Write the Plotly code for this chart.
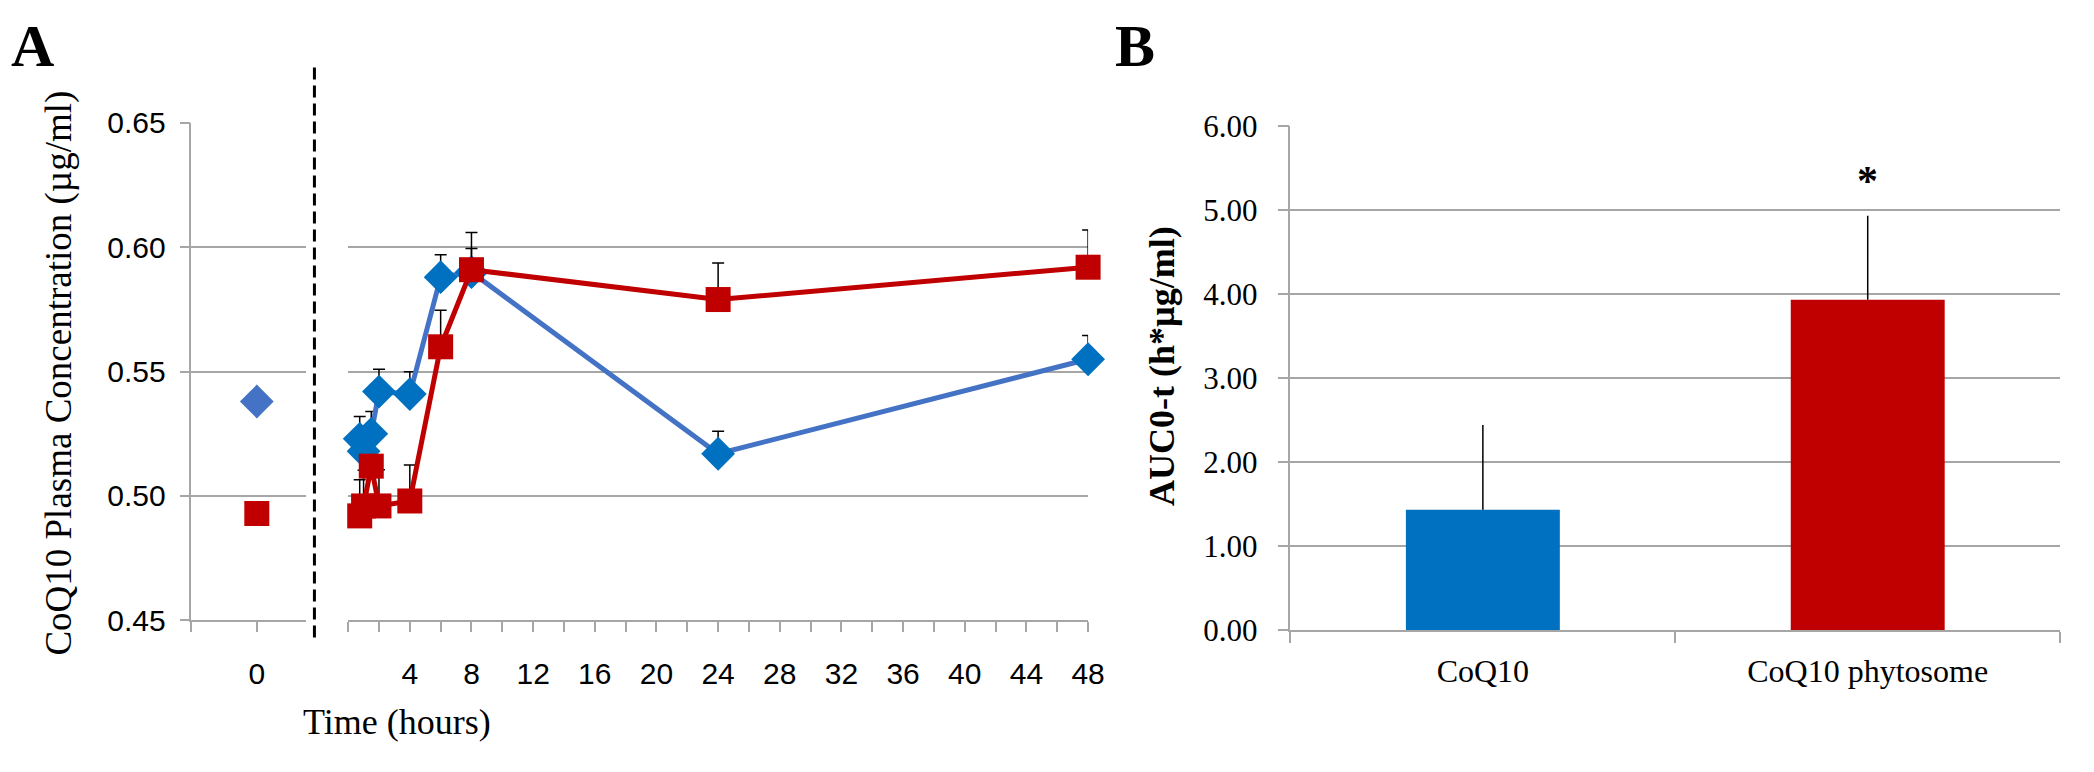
import plotly.graph_objects as go

# panel A: plasma concentration (ug/ml) over time (hours)
times = [0.75, 1, 1.5, 2, 4, 6, 8, 24, 48]
coq10 = [0.523, 0.518, 0.525, 0.542, 0.541, 0.588, 0.590, 0.517, 0.555]
coq10_err = [0.009, 0.010, 0.009, 0.009, 0.009, 0.009, 0.0095, 0.009, 0.0095]
phyto = [0.492, 0.496, 0.512, 0.496, 0.498, 0.560, 0.591, 0.579, 0.592]
phyto_err = [0.0145, 0.0144, 0.004, 0.0146, 0.0145, 0.0147, 0.015, 0.0147, 0.015]
coq10_t0 = [0.538]
phyto_t0 = [0.493]

# panel B: AUC0-t
groups = ["CoQ10", "CoQ10 phytosome"]
auc = [1.43, 3.93]
auc_err = [1.01, 1.00]

W, H = 2094, 772
BLUE_LINE = "#4472C4"
BLUE = "#0070C0"
RED = "#C00000"
GRID = "#A6A6A6"
SANS = "Liberation Sans"
SERIF = "Liberation Serif"


def px(x):
    return x / W


def py(y):
    return 1 - y / H


fig = go.Figure()

# time 0, left part of panel A
fig.add_trace(go.Scatter(x=[0], y=coq10_t0, mode="markers", xaxis="x", yaxis="y",
                         marker=dict(symbol="diamond", size=26, color=BLUE_LINE)))
fig.add_trace(go.Scatter(x=[0], y=phyto_t0, mode="markers", xaxis="x", yaxis="y",
                         marker=dict(symbol="square", size=25, color=RED)))

# time course
err_style = dict(type="data", symmetric=False, color="black", thickness=1.5, width=6)
fig.add_trace(go.Scatter(
    x=times, y=coq10, mode="lines+markers", xaxis="x2", yaxis="y2",
    line=dict(color=BLUE_LINE, width=5),
    marker=dict(symbol="diamond", size=26, color=BLUE),
    error_y=dict(array=coq10_err, arrayminus=[0] * len(times), **err_style),
    cliponaxis=False))
fig.add_trace(go.Scatter(
    x=times, y=phyto, mode="lines+markers", xaxis="x2", yaxis="y2",
    line=dict(color=RED, width=5),
    marker=dict(symbol="square", size=25, color=RED),
    error_y=dict(array=phyto_err, arrayminus=[0] * len(times), **err_style),
    cliponaxis=False))

# bars
fig.add_trace(go.Bar(
    x=groups, y=auc, xaxis="x3", yaxis="y3",
    marker=dict(color=[BLUE, RED], line=dict(width=0)),
    error_y=dict(type="data", symmetric=False, array=auc_err, arrayminus=[0, 0],
                 color="black", thickness=1.5, width=0)))

sans_tick = dict(family=SANS, size=30, color="black")
serif_tick = dict(family=SERIF, size=31, color="black")

fig.update_layout(
    width=W, height=H,
    margin=dict(l=0, r=0, t=0, b=0),
    paper_bgcolor="white", plot_bgcolor="white",
    showlegend=False,
    bargap=0.6,
    xaxis=dict(domain=[px(193), px(309)], range=[-0.5, 0.38],
               tickvals=[-0.5, 0], ticktext=["", "0"],
               showgrid=False, zeroline=False,
               showline=True, linecolor=GRID, linewidth=1.5,
               ticks="outside", ticklen=10, tickcolor=GRID, tickwidth=1.5,
               tickfont=sans_tick, ticklabelstandoff=16),
    yaxis=dict(domain=[py(632), py(111)], range=[0.45, 0.65], dtick=0.05,
               tickformat=".2f", anchor="x",
               showgrid=True, gridcolor=GRID, gridwidth=1.5, zeroline=False,
               showline=True, linecolor=GRID, linewidth=1.5,
               ticks="outside", ticklen=10, tickcolor=GRID, tickwidth=1.5,
               tickfont=sans_tick, ticklabelstandoff=8),
    xaxis2=dict(domain=[px(351), px(1097)], range=[0, 48],
                tickvals=list(range(4, 49, 4)),
                showgrid=False, zeroline=False,
                showline=True, linecolor=GRID, linewidth=1.5,
                ticks="outside", ticklen=10, tickcolor=GRID, tickwidth=1.5,
                minor=dict(dtick=2, tick0=0, ticks="outside", ticklen=10,
                           tickcolor=GRID, tickwidth=1.5, showgrid=False),
                tickfont=sans_tick, ticklabelstandoff=16, anchor="y2"),
    yaxis2=dict(domain=[py(632), py(111)], range=[0.45, 0.65], dtick=0.05,
                anchor="x2", showticklabels=False,
                showgrid=True, gridcolor=GRID, gridwidth=1.5, zeroline=False,
                showline=False, ticks=""),
    xaxis3=dict(domain=[px(1301), px(2077)], range=[-0.5, 1.5], type="category",
                anchor="y3", showgrid=False, zeroline=False,
                showline=True, linecolor=GRID, linewidth=1.5,
                ticks="outside", tickson="boundaries", ticklen=11,
                tickcolor=GRID, tickwidth=1.5,
                tickfont=dict(family=SERIF, size=32, color="black"),
                ticklabelstandoff=12),
    yaxis3=dict(domain=[py(642), py(114)], range=[0, 6], dtick=1,
                tickformat=".2f", anchor="x3",
                showgrid=True, gridcolor=GRID, gridwidth=1.5, zeroline=False,
                showline=True, linecolor=GRID, linewidth=1.5,
                ticks="outside", ticklen=11, tickcolor=GRID, tickwidth=1.5,
                tickfont=serif_tick, ticklabelstandoff=14),
)

# dashed separator between baseline and time course
fig.add_shape(type="line", xref="paper", yref="paper",
              x0=px(317), x1=px(317), y0=py(650), y1=py(52),
              line=dict(color="black", width=3, dash="12px,6px"))

ann = [
    dict(text="<b>A</b>", x=px(33), y=py(30), font=dict(family=SERIF, size=60)),
    dict(text="<b>B</b>", x=px(1144), y=py(30), font=dict(family=SERIF, size=60)),
    dict(text="CoQ10 Plasma Concentration (µg/ml)", x=px(60), y=py(373),
         textangle=-90, font=dict(family=SERIF, size=37)),
    dict(text="Time (hours)", x=px(400), y=py(738), font=dict(family=SERIF, size=36)),
    dict(text="<b>AUC0-t (h*µg/ml)</b>", x=px(1172), y=py(365),
         textangle=-90, font=dict(family=SERIF, size=36)),
]
for a in ann:
    a["font"]["color"] = "black"
    fig.add_annotation(xref="paper", yref="paper", showarrow=False,
                       xanchor="center", yanchor="middle", **a)

# significance mark over the phytosome bar
fig.add_annotation(x=groups[1], y=5.34, xref="x3", yref="y3", text="<b>*</b>",
                   showarrow=False, font=dict(family=SERIF, size=42, color="black"))

fig.write_html("out.html", config={"displayModeBar": False},
               post_script="document.body.style.margin='0';")
